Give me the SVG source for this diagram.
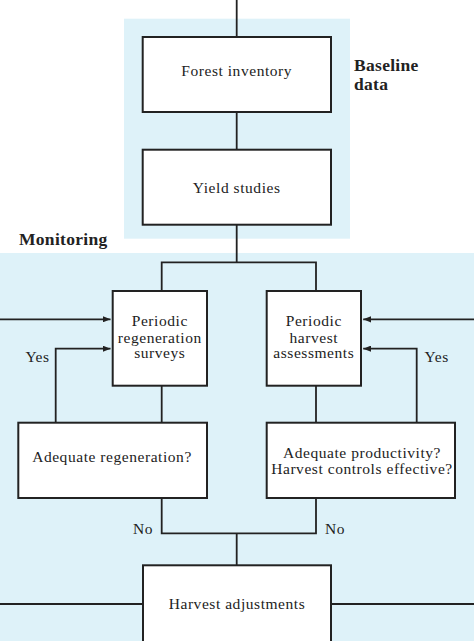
<svg xmlns="http://www.w3.org/2000/svg" width="474" height="641" viewBox="0 0 474 641">
<style>
.bg{fill:#ffffff}
.zone{fill:#def2f9}
.box{fill:#ffffff;stroke:#222222;stroke-width:2}
.ln{fill:none;stroke:#222222;stroke-width:1.8}
.t{font-family:'Liberation Serif','DejaVu Serif',serif;font-size:15.5px;fill:#222222;text-anchor:middle;letter-spacing:0.55px}
.h{font-family:'Liberation Serif','DejaVu Serif',serif;font-size:17.5px;font-weight:bold;fill:#222222;letter-spacing:0.3px}
</style>
<defs>
<marker id="arr" viewBox="0 0 10 8" refX="10" refY="4" markerWidth="8" markerHeight="6.4" markerUnits="userSpaceOnUse" orient="auto">
<path d="M0,0 L10,4 L0,8 Z" fill="#222222"/>
</marker>
</defs>
<rect class="bg" x="0" y="0" width="474" height="641"/>
<rect class="zone" x="124" y="18.7" width="226" height="220"/>
<rect class="zone" x="0" y="253" width="474" height="388"/>
<text class="h" x="354" y="71">Baseline</text>
<text class="h" x="354" y="90">data</text>
<text class="h" x="19" y="244.5">Monitoring</text>
<g id="connectors">
<path class="ln" d="M236.7,0 V37"/>
<path class="ln" d="M236.7,112 V150"/>
<path class="ln" d="M236.7,225 V262.3 M161.7,291 V262.3 H316 V291"/>
<path class="ln" d="M0,319.3 H110.5" marker-end="url(#arr)"/>
<path class="ln" d="M474,319.3 H363.2" marker-end="url(#arr)"/>
<path class="ln" d="M55.7,422.7 V348.7 H110.5" marker-end="url(#arr)"/>
<path class="ln" d="M416.7,422.7 V348.7 H363.2" marker-end="url(#arr)"/>
<path class="ln" d="M161.7,385.7 V422.7"/>
<path class="ln" d="M316,385.7 V422.7"/>
<path class="ln" d="M161.7,498 V533.3 H316 V498 M236.7,533.3 V565.3"/>
<path class="ln" d="M0,604 H143 M331,604 H474"/>
<text class="t" x="37.5" y="362">Yes</text>
<text class="t" x="436.7" y="362">Yes</text>
<text class="t" x="143" y="534">No</text>
<text class="t" x="335" y="534">No</text>
</g>
<g id="forest-inventory">
<rect class="box" x="142.7" y="37" width="188.3" height="75"/>
<text class="t" x="236.7" y="76">Forest inventory</text>
</g>
<g id="yield-studies">
<rect class="box" x="142.7" y="149.7" width="188.3" height="75"/>
<text class="t" x="236.7" y="192.5">Yield studies</text>
</g>
<g id="regeneration-surveys">
<rect class="box" x="112.7" y="291" width="94.3" height="94.7"/>
<text class="t" x="159.8" y="326">Periodic</text>
<text class="t" x="159.8" y="342.5">regeneration</text>
<text class="t" x="159.8" y="358">surveys</text>
</g>
<g id="harvest-assessments">
<rect class="box" x="266.7" y="291" width="94.3" height="94.7"/>
<text class="t" x="313.8" y="326">Periodic</text>
<text class="t" x="313.8" y="342.5">harvest</text>
<text class="t" x="313.8" y="358">assessments</text>
</g>
<g id="adequate-regeneration">
<rect class="box" x="18.3" y="422.7" width="188.7" height="75.3"/>
<text class="t" x="112" y="461.5">Adequate regeneration?</text>
</g>
<g id="adequate-productivity">
<rect class="box" x="266.7" y="422.7" width="188.3" height="75.3"/>
<text class="t" x="362" y="458">Adequate productivity?</text>
<text class="t" x="362" y="474">Harvest controls effective?</text>
</g>
<g id="harvest-adjustments">
<rect class="box" x="143" y="565.3" width="188" height="90"/>
<text class="t" x="237" y="608.5">Harvest adjustments</text>
</g>
</svg>
